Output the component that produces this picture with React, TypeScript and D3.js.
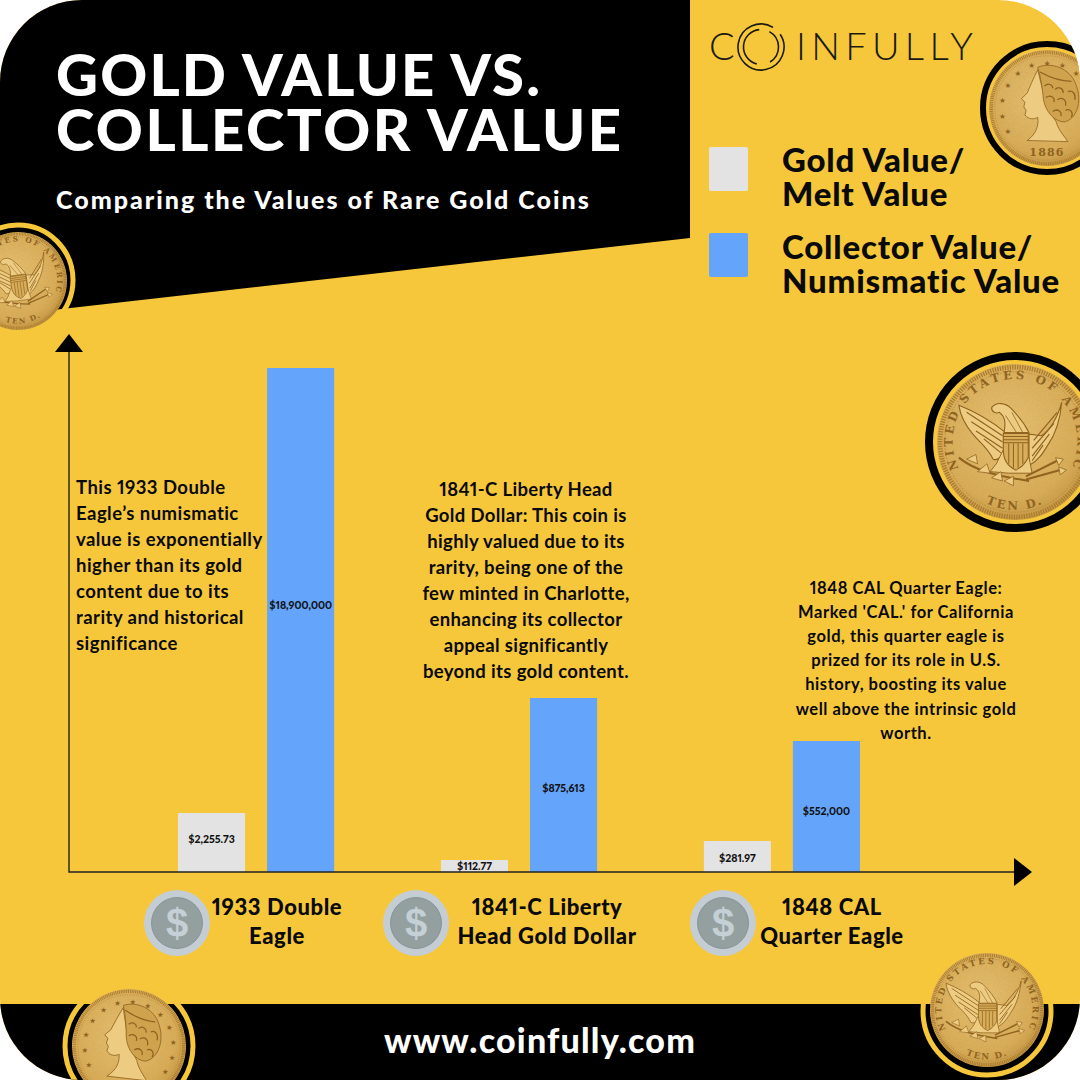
import * as d3 from 'd3'

const categories = ['1933 Double Eagle', '1841-C Liberty Head Gold Dollar', '1848 CAL Quarter Eagle']
const categoryLines = [['1933 Double', 'Eagle'], ['1841-C Liberty', 'Head Gold Dollar'], ['1848 CAL', 'Quarter Eagle']]
const goldValues = [2255.73, 112.77, 281.97]
const collectorValues = [18900000, 875613, 552000]
const goldLabels = ['$2,255.73', '$112.77', '$281.97']
const collectorLabels = ['$18,900,000', '$875,613', '$552,000']
const seriesNames = ['gold', 'collector']
const legendLines = [['Gold Value/', 'Melt Value'], ['Collector Value/', 'Numismatic Value']]
const notes = [
  ['This 1933 Double', 'Eagle’s numismatic', 'value is exponentially', 'higher than its gold', 'content due to its', 'rarity and historical', 'significance'],
  ['1841-C Liberty Head', 'Gold Dollar: This coin is', 'highly valued due to its', 'rarity, being one of the', 'few minted in Charlotte,', 'enhancing its collector', 'appeal significantly', 'beyond its gold content.'],
  ['1848 CAL Quarter Eagle:', "Marked 'CAL.' for California", 'gold, this quarter eagle is', 'prized for its role in U.S.', 'history, boosting its value', 'well above the intrinsic gold', 'worth.'],
]

const YELLOW = '#F6C73B'
const GREY = '#E3E3E3'
const BLUE = '#64A5FB'
const FONT = "Lato, 'Open Sans', sans-serif"
const BASE = 872

// the source bars are not to scale, so the value axis is piecewise
const y = d3.scaleLinear()
  .domain([0, 112.77, 281.97, 2255.73, 552000, 875613, 18900000])
  .range([BASE, 860, 841, 813, 741, 698, 368])
const xGroup = d3.scaleBand().domain(categories).range([178, 860]).paddingInner(0.406)
const xBar = d3.scaleBand().domain(seriesNames).range([0, xGroup.bandwidth()]).paddingInner(0.247)

const goldLabelY = [839, 866, 858]
const collectorLabelY = [605, 788, 811]
const labelCentres = [277, 547, 832]
const dollarCentres = [177, 416, 723]

const DARK = '#8F6320'
const LIGHT = '#EDCB80'

function Rim() {
  return (
    <>
      <circle r={100} fill="url(#coinFill)" />
      <circle r={100} fill="#7a5514" opacity={0.35} filter="url(#grain)" />
      <circle r={96} fill="none" stroke="#A97A2C" strokeWidth={6} strokeDasharray="1.6 1.6" />
      <circle r={90} fill="none" stroke="#B98A38" strokeWidth={1.2} strokeDasharray="2 2" />
    </>
  )
}

function EagleCoin({ cx, cy, r, rotate = 0, name }: { cx: number; cy: number; r: number; rotate?: number; name: string }) {
  return (
    <g transform={`translate(${cx},${cy}) rotate(${rotate}) scale(${r / 100})`}>
      <Rim />
      <path id={`${name}-top`} d="M -72 34 A 80 80 0 1 1 72 34" fill="none" />
      <path id={`${name}-bottom`} d="M -40 77 A 87 87 0 0 0 40 77" fill="none" />
      <text fontFamily="'DejaVu Serif', serif" fontSize={15} fontWeight={700} fill={DARK} letterSpacing={4.2}>
        <textPath href={`#${name}-top`} startOffset="50%" textAnchor="middle">UNITED STATES OF AMERICA</textPath>
      </text>
      <text fontFamily="'DejaVu Serif', serif" fontSize={15} fontWeight={700} fill={DARK} letterSpacing={3}>
        <textPath href={`#${name}-bottom`} startOffset="50%" textAnchor="middle">TEN D.</textPath>
      </text>
      {/* wings */}
      <path d="M -72 -47 C -54 -40 -32 -28 -12 -12 L -12 14 C -20 22 -24 24 -28 22 C -36 6 -46 0 -54 -10 C -64 -22 -70 -34 -72 -47 Z" fill={LIGHT} stroke={DARK} strokeWidth={1.4} />
      <path d="M 60 -51 C 54 -30 46 -16 34 -8 L 18 -10 L 18 30 C 30 24 36 14 42 4 C 52 -10 58 -30 60 -51 Z" fill={LIGHT} stroke={DARK} strokeWidth={1.4} />
      <path d="M -62 -38 L -16 -8 M -56 -26 L -16 0 M -50 -14 L -16 8 M -40 -4 L -18 14 M 54 -38 L 24 -2 M 50 -24 L 22 8 M 44 -10 L 22 18 M 36 4 L 22 24" stroke={DARK} strokeWidth={1.5} fill="none" />
      {/* head and neck */}
      <path d="M -30 -44 C -24 -52 -12 -50 -6 -44 C 4 -34 12 -24 18 -12 L -14 -12 C -12 -24 -12 -32 -20 -38 C -24 -36 -30 -38 -30 -44 Z" fill={LIGHT} stroke={DARK} strokeWidth={1.4} />
      <path d="M -12 -34 L 2 -12 M -4 -38 L 10 -12" stroke={DARK} strokeWidth={1} />
      {/* body, legs */}
      <path d="M -15 10 L -24 28 L -32 38 L -8 40 L 22 40 L 18 20 Z" fill={LIGHT} stroke={DARK} strokeWidth={1.2} />
      {/* shield */}
      <path d="M -15 -11 H 17 V 20 C 12 30 6 34 1 36 C -8 32 -15 24 -15 10 Z" fill="#D9AE5A" stroke={DARK} strokeWidth={1.4} />
      <path d="M -15 -7 H 17 M -15 -3 H 17 M -15 1 H 17 M -8 2 V 28 M -2 2 V 33 M 4 2 V 33 M 10 2 V 28" stroke={DARK} strokeWidth={1.3} />
      {/* branch and arrows */}
      <path d="M -72 20 C -50 38 -20 44 18 50 M 14 44 L 54 24 M 14 48 L 58 36" stroke={DARK} strokeWidth={2.6} fill="none" />
      <path d="M -62 22 l 12 -6 l 2 12 Z M -48 38 l 12 -10 l 4 12 Z M -30 46 l 12 -8 l 2 12 Z M -14 50 l 12 -6 l 0 12 Z M 52 20 l 10 2 l -6 8 Z M 56 32 l 10 4 l -8 6 Z" fill={LIGHT} stroke={DARK} strokeWidth={1} />
    </g>
  )
}

function LibertyCoin({ cx, cy, r, rotate = 0, date }: { cx: number; cy: number; r: number; rotate?: number; date?: string }) {
  const stars = d3.range(13).map((i) => (Math.PI * (150 + i * 20)) / 180)
  return (
    <g transform={`translate(${cx},${cy}) rotate(${rotate}) scale(${r / 100})`}>
      <Rim />
      {stars.map((a, i) => (
        <text key={i} x={Math.cos(a) * 78} y={Math.sin(a) * 78 + 5} textAnchor="middle" fontFamily="'DejaVu Sans', sans-serif" fontSize={13} fill={DARK}>★</text>
      ))}
      {/* face, neck */}
      <path d="M -16 -66 C -24 -50 -30 -36 -34 -26 L -44 -16 L -38 -10 L -40 -2 L -36 4 L -38 12 C -32 20 -22 20 -16 16 C -14 30 -18 44 -34 56 L 36 58 C 26 44 18 34 16 24 L 0 0 Z" fill={LIGHT} stroke={DARK} strokeWidth={1.4} />
      {/* hair */}
      <path d="M -16 -70 C 5 -80 40 -70 50 -40 C 62 -10 50 20 30 24 C 14 24 -2 8 -6 -14 C -8 -34 -10 -50 -16 -70 Z" fill="#CFA24E" stroke={DARK} strokeWidth={1.4} />
      <path d="M -12 -62 C 6 -52 24 -46 42 -46 M -4 -38 C 2 -44 10 -40 10 -34 M 14 -32 C 20 -38 28 -34 28 -26 M -2 -18 C 6 -24 14 -18 12 -10 M 18 -14 C 26 -20 34 -14 32 -4 M 36 -28 C 44 -32 50 -24 48 -14 M 10 6 C 18 0 26 6 24 14 M 32 4 C 40 0 46 8 42 16" stroke={DARK} strokeWidth={2.2} fill="none" />
      {date && (
        <text y={83} textAnchor="middle" fontFamily="'DejaVu Serif', serif" fontSize={19} fontWeight={700} fill={DARK} letterSpacing={2}>{date}</text>
      )}
    </g>
  )
}

function DollarCoin({ cx, cy }: { cx: number; cy: number }) {
  return (
    <g transform={`translate(${cx},${cy})`}>
      <circle r={33} fill="#C5CDD4" />
      <circle r={25.5} fill="#94A09F" stroke="#7F8C8B" strokeWidth={0.8} />
      <text y={14} textAnchor="middle" fontFamily="'Liberation Sans', sans-serif" fontSize={40} fontWeight={700} fill="#C5CFD6">$</text>
    </g>
  )
}

function Logo() {
  const arc = d3.arc()
  return (
    <g fill="none" stroke="#1a1a10" strokeWidth={1.6}>
      <g transform="translate(761,47)">
        <path d={arc({ innerRadius: 23, outerRadius: 23, startAngle: -5.3, endAngle: 0.55 }) ?? ''} />
        <path d={arc({ innerRadius: 17.5, outerRadius: 17.5, startAngle: -2.9, endAngle: -0.1 }) ?? ''} />
        <path d={arc({ innerRadius: 17.5, outerRadius: 17.5, startAngle: 0.5, endAngle: 2.6 }) ?? ''} />
      </g>
      <text x={709} y={60} fontFamily={FONT} fontWeight={300} fontSize={38} fill="#1a1a10" stroke="none">C</text>
      <text x={796} y={60} fontFamily={FONT} fontWeight={300} fontSize={38} letterSpacing={5.3} fill="#1a1a10" stroke="none">INFULLY</text>
    </g>
  )
}

export default function App() {
  const barWidth = xBar.bandwidth()
  return (
    <svg width={1080} height={1080} viewBox="0 0 1080 1080" style={{ position: 'absolute', left: 0, top: 0, background: '#fff', fontVariantNumeric: 'proportional-nums' }} fontFamily={FONT}>
      <defs>
        <clipPath id="page"><rect width={1080} height={1080} rx={82} /></clipPath>
        <radialGradient id="coinFill" cx="45%" cy="42%" r="65%">
          <stop offset="0%" stopColor="#E6C071" />
          <stop offset="70%" stopColor="#D8AC58" />
          <stop offset="100%" stopColor="#BD8E3C" />
        </radialGradient>
        <filter id="grain" x="0" y="0" width="100%" height="100%">
          <feTurbulence type="fractalNoise" baseFrequency="0.9" numOctaves={2} seed={4} />
          <feColorMatrix values="0 0 0 0 0.45  0 0 0 0 0.3  0 0 0 0 0.08  0 0 0 1.4 -0.55" />
          <feComposite in2="SourceGraphic" operator="in" />
        </filter>
      </defs>
      <g clipPath="url(#page)">
        <rect width={1080} height={1080} fill={YELLOW} />
        <path d="M0 0 H690 V238 L0 316 Z" fill="#000" />
        <rect y={1004} width={1080} height={76} fill="#000" />

        <text x={56} y={96} fill="#fff" fontSize={58} fontWeight={900} textLength={484} lengthAdjust="spacing">GOLD VALUE VS.</text>
        <text x={56} y={151} fill="#fff" fontSize={58} fontWeight={900} textLength={565} lengthAdjust="spacing">COLLECTOR VALUE</text>
        <text x={56} y={209} fill="#fff" fontSize={25} fontWeight={900} letterSpacing={2}>Comparing the Values of Rare Gold Coins</text>

        <Logo />

        {/* coins */}
        <circle cx={18} cy={280} r={55} fill="none" stroke={YELLOW} strokeWidth={5} />
        <EagleCoin cx={18} cy={281} r={49} rotate={-8} name="a" />
        <circle cx={1047} cy={108} r={64} fill={YELLOW} stroke="#000" strokeWidth={6} />
        <LibertyCoin cx={1047} cy={108} r={58} date="1886" />
        <circle cx={1015} cy={442} r={86} fill={YELLOW} stroke="#000" strokeWidth={8} />
        <EagleCoin cx={1015} cy={442} r={78} name="b" />
        <circle cx={129} cy={1046} r={64} fill="#000" stroke={YELLOW} strokeWidth={5} />
        <rect x={50} y={975} width={160} height={29} fill={YELLOW} />
        <LibertyCoin cx={129} cy={1046} r={57} rotate={5} />
        <circle cx={987} cy={1011} r={64} fill="none" stroke={YELLOW} strokeWidth={5} />
        <EagleCoin cx={987} cy={1010} r={57} name="c" />

        {/* legend */}
        {legendLines.map((lines, i) => (
          <g key={i}>
            <rect x={709} y={[147, 233][i]} width={39} height={44} rx={2} fill={[GREY, BLUE][i]} />
            {lines.map((line, j) => (
              <text key={j} x={782} y={[172, 259][i] + j * 33.5} fontSize={33} fontWeight={900} letterSpacing={0.8} fill="#0a0a0a">{line}</text>
            ))}
          </g>
        ))}

        {/* bars */}
        {categories.map((c, i) => {
          const x0 = xGroup(c) ?? 0
          const goldX = x0 + (xBar('gold') ?? 0)
          const collX = x0 + (xBar('collector') ?? 0)
          return (
            <g key={c}>
              <rect x={goldX} y={y(goldValues[i])} width={barWidth} height={BASE - y(goldValues[i])} rx={1} fill={GREY} />
              <rect x={collX} y={y(collectorValues[i])} width={barWidth} height={BASE - y(collectorValues[i])} fill={BLUE} />
              <text x={goldX + barWidth / 2} y={goldLabelY[i]} dy="0.35em" textAnchor="middle" fontSize={10.5} fontWeight={900} fill="#111">{goldLabels[i]}</text>
              <text x={collX + barWidth / 2} y={collectorLabelY[i]} dy="0.35em" textAnchor="middle" fontSize={10.5} fontWeight={900} fill="#111">{collectorLabels[i]}</text>
            </g>
          )
        })}

        {/* axes */}
        <path d={`M69 352 V${BASE} H1015`} fill="none" stroke="#222" strokeWidth={1.4} />
        <path d="M55 352 L83 352 L69 334 Z" fill="#000" />
        <path d="M1014 858 L1014 886 L1032 872 Z" fill="#000" />

        {/* notes */}
        {notes[0].map((line, i) => (
          <text key={i} x={76} y={494 + i * 26} fontSize={18.5} fontWeight={700} letterSpacing={0.45} fill="#0a0a0a">{line}</text>
        ))}
        {notes[1].map((line, i) => (
          <text key={i} x={526} y={496 + i * 26} textAnchor="middle" fontSize={18.5} fontWeight={700} letterSpacing={0.35} fill="#0a0a0a">{line}</text>
        ))}
        {notes[2].map((line, i) => (
          <text key={i} x={906} y={594 + i * 24.1} textAnchor="middle" fontSize={16.5} fontWeight={700} letterSpacing={0.55} fill="#0a0a0a">{line}</text>
        ))}

        {/* category labels */}
        {categoryLines.map((lines, i) => (
          <g key={i}>
            <DollarCoin cx={dollarCentres[i]} cy={923} />
            {lines.map((line, j) => (
              <text key={j} x={labelCentres[i]} y={915 + j * 29} textAnchor="middle" fontSize={22} fontWeight={900} letterSpacing={0.6} fill="#0a0a0a">{line}</text>
            ))}
          </g>
        ))}

        <text x={540} y={1053} textAnchor="middle" fill="#fff" fontSize={34} fontWeight={900} letterSpacing={1.2}>www.coinfully.com</text>
      </g>
    </svg>
  )
}
